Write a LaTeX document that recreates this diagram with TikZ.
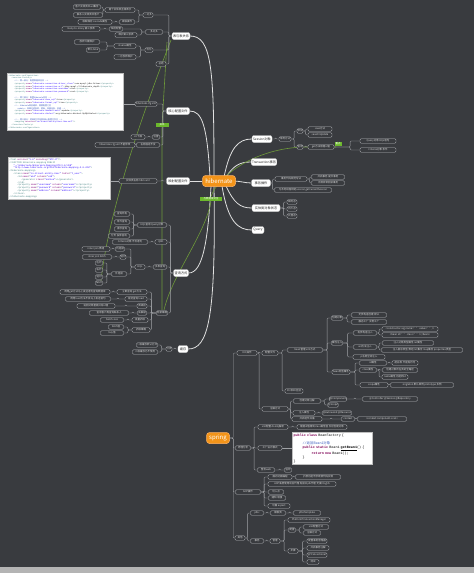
\documentclass[tikz,border=0pt]{standalone}
\usepackage{fontspec}
\setmainfont{Noto Sans CJK SC}
\setmonofont{Liberation Mono}
\usetikzlibrary{shadows}
\pgfdeclarelayer{back}
\pgfdeclarelayer{lines}
\pgfsetlayers{back,lines,main}
\definecolor{bgc}{HTML}{393B3F}
\definecolor{stripc}{HTML}{B4B4B4}
\definecolor{lnc}{HTML}{A0A2A6}
\definecolor{lfb}{HTML}{B4B6BA}
\definecolor{lft}{HTML}{D8D8D8}
\definecolor{relc}{HTML}{6E9A3A}
\definecolor{grn}{HTML}{6CB82C}
\definecolor{org}{HTML}{F39419}
\definecolor{kw}{HTML}{7F0055}
\definecolor{tg}{HTML}{3F7F7F}
\definecolor{at}{HTML}{7F007F}
\definecolor{st}{HTML}{2A00FF}
\definecolor{cm}{HTML}{3F5FBF}
\tikzset{
 leaf/.style={draw=lfb, line width=0.3pt, fill=bgc, text=lft, rounded corners=1.2pt, inner sep=0.5pt, minimum height=4.6pt, font=\fontsize{2.5}{2.8}\selectfont},
 mainn/.style={fill=white, draw=gray!40, line width=0.3pt, text=black!85, rounded corners=2pt, inner sep=0.8pt, minimum height=7pt, font=\fontsize{3.2}{3.6}\selectfont},
 conn/.style={draw=lnc, line width=0.35pt, rounded corners=1pt},
 curv/.style={draw=white!88!black, line width=0.8pt},
 rel/.style={draw=relc, line width=0.6pt},
 glab/.style={fill=grn, text=white, inner sep=0.6pt, minimum height=4.5pt, font=\fontsize{2.5}{2.8}\selectfont},
 rootn/.style={fill=org, draw=orange!60!white, line width=0.5pt, text=white, rounded corners=3pt, inner sep=1.2pt, minimum height=11pt, font=\fontsize{6}{7}\selectfont},
 codebox/.style={fill=white, draw=gray!50, line width=0.3pt, drop shadow={opacity=0.35, shadow xshift=0.6pt, shadow yshift=-0.6pt}},
}
\newcommand\lfnode[5]{\node[leaf,minimum width=#4pt] (#1) at (#2,#3) {#5};}
\newcommand\mnnode[5]{\node[mainn,minimum width=#4pt] (#1) at (#2,#3) {#5};}
\newcommand\lklink[3]{\draw[conn] (#1.west) -- ++(-#3,0) |- (#2.east);}
\newcommand\rklink[3]{\draw[conn] (#1.east) -- ++(#3,0) |- (#2.west);}
\begin{document}
\begin{tikzpicture}[x=1pt,y=-1pt]
\begin{pgfonlayer}{back}
\fill[bgc] (0,0) rectangle (474,573);
\fill[stripc] (0,567) rectangle (474,573);
\end{pgfonlayer}
\useasboundingbox (0,0) rectangle (474,573);

% roots
\node[rootn, minimum width=33pt] (hib) at (219,181) {hibernate};
\node[rootn, minimum width=23pt] (spr) at (218,438) {spring};

% hibernate main branches
\mnnode{h1}{181}{36}{18}{表与表关系}
\mnnode{h2}{178}{111}{23}{核心配置文件}
\mnnode{h3}{178}{181}{23}{映射配置文件}
\mnnode{h4}{181}{273}{15}{查询方式}
\mnnode{h5}{183}{349}{10}{缓存}
\mnnode{r1}{262}{139}{20}{Session对象}
\mnnode{r2}{264}{162}{25}{Transaction事务}
\mnnode{r3}{261}{183}{19}{事务操作}
\mnnode{r4}{266}{208}{28}{实体类对象状态}
\mnnode{r5}{258}{230}{12}{Query}

% green labels
\node[glab, minimum width=13pt] (g1) at (162,125) {关系};
\node[glab, minimum width=22pt] (g2) at (211,199) {与数据库交互};
\node[glab, minimum width=7pt] (g3) at (338,144) {重点};

% h1 group
\lfnode{a1}{148}{15}{10}{一对多}
\lfnode{a11}{120}{10}{30}{两个实体类互相表示}
\lfnode{a111}{87}{7}{27}{客户实体类中set集合}
\lfnode{a112}{88}{15}{29}{联系人实体类中客户}
\lfnode{a12}{127}{22}{15}{级联操作}
\lfnode{a121}{95}{22}{34}{级联保存 cascade属性}
\lfnode{a2}{154}{32}{17}{多对多}
\lfnode{a21}{116}{29}{13}{映射配置}
\lfnode{a211}{81}{29}{38}{many-to-many 第三张表}
\lfnode{a22}{126}{35}{22}{维护第三张表}
\lfnode{a3}{149}{50}{8}{优化}
\lfnode{a31}{125}{46}{22}{inverse属性}
\lfnode{a311}{87}{42}{25}{放弃外键维护}
\lfnode{a312}{93}{50}{13}{默认false}
\lfnode{a32}{125}{57}{22}{一方放弃维护}
\lfnode{a4}{161}{64}{10}{总结}

% h2 group
\node[codebox, anchor=north west, text width=113pt, align=left, inner sep=1.5pt, font=\fontsize{2.0}{2.75}\ttfamily] (code1) at (7,73) {%
\textcolor{tg}{<hibernate-configuration>}\\
\hspace*{3pt}\textcolor{tg}{<session-factory>}\\
\hspace*{6pt}\textcolor{cm}{<!-- {\rmfamily 第一部分：配置数据库信息} -->}\\
\hspace*{6pt}\textcolor{tg}{<property} \textcolor{at}{name}=\textcolor{st}{"hibernate.connection.driver\_class"}\textcolor{tg}{>}com.mysql.jdbc.Driver\textcolor{tg}{</property>}\\
\hspace*{6pt}\textcolor{tg}{<property} \textcolor{at}{name}=\textcolor{st}{"hibernate.connection.url"}\textcolor{tg}{>}jdbc:mysql:///hibernate\_day01\textcolor{tg}{</property>}\\
\hspace*{6pt}\textcolor{tg}{<property} \textcolor{at}{name}=\textcolor{st}{"hibernate.connection.username"}\textcolor{tg}{>}root\textcolor{tg}{</property>}\\
\hspace*{6pt}\textcolor{tg}{<property} \textcolor{at}{name}=\textcolor{st}{"hibernate.connection.password"}\textcolor{tg}{>}root\textcolor{tg}{</property>}\\
\mbox{}\\
\hspace*{6pt}\textcolor{cm}{<!-- {\rmfamily 第二部分：配置hibernate信息} -->}\\
\hspace*{6pt}\textcolor{tg}{<property} \textcolor{at}{name}=\textcolor{st}{"hibernate.show\_sql"}\textcolor{tg}{>}true\textcolor{tg}{</property>}\\
\hspace*{6pt}\textcolor{tg}{<property} \textcolor{at}{name}=\textcolor{st}{"hibernate.format\_sql"}\textcolor{tg}{>}true\textcolor{tg}{</property>}\\
\hspace*{6pt}\textcolor{cm}{<!-- {\rmfamily hibernate帮创建表，需要配置之后}}\\
\hspace*{9pt}\textcolor{cm}{update: {\rmfamily 如果已经有表，更新，如果没有，创建} -->}\\
\hspace*{6pt}\textcolor{tg}{<property} \textcolor{at}{name}=\textcolor{st}{"hibernate.hbm2ddl.auto"}\textcolor{tg}{>}update\textcolor{tg}{</property>}\\
\hspace*{6pt}\textcolor{tg}{<property} \textcolor{at}{name}=\textcolor{st}{"hibernate.dialect"}\textcolor{tg}{>}org.hibernate.dialect.MySQLDialect\textcolor{tg}{</property>}\\
\mbox{}\\
\hspace*{6pt}\textcolor{cm}{<!-- {\rmfamily 第三部分：把映射文件放到核心配置文件中} -->}\\
\hspace*{6pt}\textcolor{tg}{<mapping} \textcolor{at}{resource}=\textcolor{st}{"cn/itcast/entity/User.hbm.xml"}\textcolor{tg}{/>}\\
\hspace*{3pt}\textcolor{tg}{</session-factory>}\\
\textcolor{tg}{</hibernate-configuration>}};
\lfnode{b1}{146}{104}{22}{hibernate.cfg.xml}
\lfnode{b4}{156}{137}{7}{位置}
\lfnode{b2}{138}{137}{14}{src下面}
\lfnode{b3}{148}{145}{23}{名称固定不变}
\lfnode{b31}{115}{145}{40}{hibernate.cfg.xml 不能修改}

% h3 group
\node[codebox, anchor=north west, text width=99pt, align=left, inner sep=1.5pt, font=\fontsize{2.3}{2.85}\ttfamily] (code2) at (8,157) {%
\textcolor{tg}{<?xml} \textcolor{at}{version}=\textcolor{st}{"1.0"} \textcolor{at}{encoding}=\textcolor{st}{"UTF-8"}\textcolor{tg}{?>}\\
\textcolor{tg}{<!DOCTYPE hibernate-mapping PUBLIC}\\
\hspace*{4pt}\textcolor{st}{"-//Hibernate/Hibernate Mapping DTD 3.0//EN"}\\
\hspace*{4pt}\textcolor{st}{"http://www.hibernate.org/dtd/hibernate-mapping-3.0.dtd"}\textcolor{tg}{>}\\
\textcolor{tg}{<hibernate-mapping>}\\
\hspace*{4pt}\textcolor{tg}{<class} \textcolor{at}{name}=\textcolor{st}{"cn.itcast.entity.User"} \textcolor{at}{table}=\textcolor{st}{"t\_user"}\textcolor{tg}{>}\\
\hspace*{8pt}\textcolor{tg}{<id} \textcolor{at}{name}=\textcolor{st}{"uid"} \textcolor{at}{column}=\textcolor{st}{"uid"}\textcolor{tg}{>}\\
\hspace*{12pt}\textcolor{tg}{<generator} \textcolor{at}{class}=\textcolor{st}{"native"}\textcolor{tg}{></generator>}\\
\hspace*{8pt}\textcolor{tg}{</id>}\\
\hspace*{8pt}\textcolor{tg}{<property} \textcolor{at}{name}=\textcolor{st}{"username"} \textcolor{at}{column}=\textcolor{st}{"username"}\textcolor{tg}{></property>}\\
\hspace*{8pt}\textcolor{tg}{<property} \textcolor{at}{name}=\textcolor{st}{"password"} \textcolor{at}{column}=\textcolor{st}{"password"}\textcolor{tg}{></property>}\\
\hspace*{8pt}\textcolor{tg}{<property} \textcolor{at}{name}=\textcolor{st}{"address"} \textcolor{at}{column}=\textcolor{st}{"address"}\textcolor{tg}{></property>}\\
\hspace*{4pt}\textcolor{tg}{</class>}\\
\textcolor{tg}{</hibernate-mapping>}};
\lfnode{c1}{138}{181}{38}{实体类名称.hbm.xml}

% h4 group
\lfnode{d1}{152}{225}{29}{HQL查询 Query对象}
\lfnode{d11}{122}{214}{15}{查询所有}
\lfnode{d12}{122}{222}{15}{条件查询}
\lfnode{d13}{122}{229}{15}{排序查询}
\lfnode{d14}{119}{236}{21}{分页 投影查询}
\lfnode{d2}{161}{242}{12}{QBC}
\lfnode{d21}{130}{242}{35}{Criteria对象 不写语句}
\lfnode{d3}{160}{267}{13}{多表查询}
\lfnode{d31}{140}{267}{10}{HQL}
\lfnode{d311}{120}{249}{9}{内连接}
\lfnode{d3111}{96}{249}{28}{inner join 数组}
\lfnode{d312}{123}{257}{6}{迫切}
\lfnode{d3121}{97}{257}{29}{inner join fetch}
\lfnode{d313}{119}{274}{15}{外连接}
\lfnode{d3131}{99}{263}{7}{左外}
\lfnode{d3132}{99}{270}{7}{右外}
\lfnode{d3133}{99}{277}{7}{迫切}
\lfnode{d3134}{99}{283}{7}{fetch}
\lfnode{e0}{162}{313}{10}{检索策略}
\lfnode{e1}{132}{292}{30}{立即查询 get方法}
\lfnode{e11}{85}{292}{50}{调用get方法马上发送语句查询数据库}
\lfnode{e2}{136}{299}{22}{延迟查询 load}
\lfnode{e21}{88}{299}{45}{调用load方法不会马上发送语句}
\lfnode{e3}{142}{306}{10}{类级别}
\lfnode{e31}{96}{306}{38}{返回对象里面只有id值}
\lfnode{e4}{142}{313}{9}{关联级}
\lfnode{e41}{109}{313}{39}{查询客户再查询联系人}
\lfnode{e5}{140}{320}{16}{批量抓取}
\lfnode{e51}{112}{320}{23}{batch-size}
\lfnode{e6}{141}{330}{18}{抓取策略}
\lfnode{e61}{116}{327}{15}{fetch值}
\lfnode{e62}{112}{333}{23}{lazy值}

% h5 group
\lfnode{f1}{169}{349}{5}{分类}
\lfnode{f11}{147}{345}{20}{一级缓存默认打开}
\lfnode{f12}{145}{352}{25}{二级缓存已不使用}

% right groups
\lfnode{r11}{285}{139}{12}{常用方法}
\lfnode{r111}{300}{131}{6}{添加}
\lfnode{r1111}{320}{129}{24}{save方法}
\lfnode{r1112}{320}{135}{24}{saveOrUpdate}
\lfnode{r112}{300}{147}{6}{查询}
\lfnode{r1121}{321}{147}{26}{get方法根据id查}
\lfnode{r11211}{378}{141}{36}{Query对象 HQL语句}
\lfnode{r11212}{378}{150}{36}{Criteria对象 条件}
\lfnode{r31}{291}{179}{32}{事务代码规范写法}
\lfnode{r311}{328}{177}{33}{开启事务 提交事务}
\lfnode{r312}{328}{183}{33}{出现异常回滚事务}
\lfnode{r32}{303}{190}{57}{与本地线程绑定session getCurrentSession}
\lfnode{r41}{292}{202}{10}{瞬时态}
\lfnode{r42}{292}{209}{10}{持久态}
\lfnode{r43}{292}{216}{10}{托管态}

% spring
\lfnode{s1}{247}{353}{20}{IOC操作}
\lfnode{s11}{270}{353}{16}{配置文件}
\lfnode{s111}{305}{350}{35}{bean管理 xml方式}
\lfnode{t1}{337}{318}{10}{创建对象}
\lfnode{t11}{369}{315}{35}{无参构造创建 默认}
\lfnode{t12}{369}{322}{35}{静态工厂 实例工厂}
\lfnode{t2}{337}{343}{11}{属性注入}
\lfnode{u1}{365}{333}{23}{有参构造注入}
\lfnode{u11}{410}{329}{56}{<constructor-arg name="" value=""/>}
\lfnode{u12}{410}{335}{56}{<bean id="" class=""></bean>}
\lfnode{u2}{365}{347}{23}{set方法注入}
\lfnode{u21}{408}{343}{51}{注入对象类型属性 ref属性}
\lfnode{u22}{422}{350}{81}{注入复杂类型 数组 list集合 map集合 properties类型}
\lfnode{u3}{369}{357}{32}{p名称空间注入}
\lfnode{t3}{341}{372}{18}{bean标签属性}
\lfnode{v1}{373}{363}{27}{id属性}
\lfnode{v11}{405}{363}{26}{起名称 不能有符号}
\lfnode{v2}{368}{370}{17}{class属性}
\lfnode{v21}{400}{370}{35}{创建对象所在类的全路径}
\lfnode{v22}{395}{377}{26}{name属性 功能同id}
\lfnode{v3}{374}{385}{28}{scope属性}
\lfnode{v31}{422}{385}{63}{singleton 默认单例 prototype 多例}
\lfnode{s112}{294}{391}{18}{IOC和DI区别}
\lfnode{s12}{275}{409}{26}{注解方式}
\lfnode{w1}{307}{401}{27}{创建对象注解}
\lfnode{w11}{338}{399}{17}{@Component}
\lfnode{w111}{390}{399}{55}{@Controller @Service @Repository}
\lfnode{w12}{333}{405}{9}{@Scope}
\lfnode{w2}{304}{413}{22}{注入属性}
\lfnode{w21}{337}{413}{29}{@Autowired @Resource}
\lfnode{w3}{307}{419}{30}{开启组件扫描}
\lfnode{w31}{348}{419}{13}{context}
\lfnode{w311}{382}{419}{49}{<context:component-scan>}

\lfnode{s2}{243}{448}{15}{原理分析}
\lfnode{s21}{273}{427}{30}{xml配置 dom4j解析}
\lfnode{s211}{322}{427}{50}{根据id值得到class属性值 反射创建对象}
\lfnode{s22}{270}{448}{24}{工厂设计模式}
\lfnode{s23}{266}{470}{17}{整合web}
\lfnode{s231}{288}{470}{7}{监听}
\node[codebox, anchor=north west, text width=77pt, align=left, inner sep=1.5pt, font=\fontsize{3.4}{4.0}\ttfamily] (code3) at (292,432) {%
\textcolor{kw}{\bfseries public class} BeanFactory \{\\
\mbox{}\\
\hspace*{9pt}\textcolor{cm}{//{\rmfamily 返回Bean1对象}}\\
\hspace*{9pt}\textcolor{kw}{\bfseries public static} Bean1 \textbf{\underline{getBean1}}() \{\\
\hspace*{18pt}\textcolor{kw}{\bfseries return new} Bean1();\\
\hspace*{9pt}\}\\
\}};

\lfnode{s3}{248}{492}{25}{AOP操作}
\lfnode{s31}{280}{477}{24}{面向切面编程}
\lfnode{s311}{318}{477}{45}{扩展功能不修改源代码实现}
\lfnode{s32}{302}{484}{68}{AOP底层使用动态代理 有接口jdk代理 无接口cglib}
\lfnode{s33}{276}{492}{15}{切入点}
\lfnode{s34}{277}{498}{17}{通知 增强}
\lfnode{s35}{279}{506}{22}{切面 aspect}
\lfnode{s4}{240}{538}{10}{其他}
\lfnode{s41}{257}{513}{13}{jdbc}
\lfnode{s411}{278}{513}{15}{模板类}
\lfnode{s4111}{307}{513}{27}{jdbcTemplate}
\lfnode{s42}{257}{541}{13}{事务}
\lfnode{s421}{275}{541}{10}{管理}
\lfnode{s4211}{309}{520}{42}{PlatformTransactionManager}
\lfnode{s4212}{292}{530}{7}{配置}
\lfnode{s42121}{316}{527}{25}{xml配置方式}
\lfnode{s42122}{312}{533}{17}{注解方式}
\lfnode{s4213}{293}{551}{10}{步骤}
\lfnode{s42131}{317}{541}{20}{配置事务管理器}
\lfnode{s42132}{318}{548}{22}{开启事务注解}
\lfnode{s42133}{317}{555}{20}{@Transactional}
\lfnode{s42134}{313}{562}{12}{测试}

\begin{pgfonlayer}{lines}
% hibernate curves
\draw[curv] (214,177) .. controls (214,70) and (212,36) .. (h1.east);
\draw[curv] (210,177) .. controls (207,125) and (202,111) .. (h2.east);
\draw[curv] (hib.west) -- (h3.east);
\draw[curv] (211,186) .. controls (208,240) and (203,273) .. (h4.east);
\draw[curv] (214,186) .. controls (216,320) and (208,349) .. (h5.east);
\draw[curv] (224,177) .. controls (230,148) and (238,139) .. (r1.west);
\draw[curv] (226,177) .. controls (234,165) and (240,162) .. (r2.west);
\draw[curv] (233,181) .. controls (240,181) and (245,183) .. (r3.west);
\draw[curv] (226,186) .. controls (234,203) and (240,208) .. (r4.west);
\draw[curv] (222,186) .. controls (228,222) and (238,230) .. (r5.west);
% relations
\draw[rel] (167,42) -- (g1) -- (162,310);
\draw[rel] (171,40) .. controls (140,120) and (108,215) .. (101,281);
\draw[rel] (336,147) -- (305,147) .. controls (255,148) and (218,176) .. (g2.north);
\draw[rel] (g2.south) .. controls (205,235) and (172,275) .. (164,310);
% left links
\lklink{h1}{a1}{3} \lklink{h1}{a2}{3} \lklink{h1}{a3}{3} \lklink{h1}{a4}{3}
\lklink{a1}{a11}{4} \lklink{a1}{a12}{4}
\lklink{a11}{a111}{2} \lklink{a11}{a112}{2}
\lklink{a12}{a121}{3.5}
\lklink{a2}{a21}{4} \lklink{a2}{a22}{4}
\lklink{a21}{a211}{4.5}
\lklink{a3}{a31}{4.5} \lklink{a3}{a32}{4.5}
\lklink{a31}{a311}{7} \lklink{a31}{a312}{7}
\lklink{h2}{b1}{3.5} \lklink{h2}{b4}{3.5} \lklink{h2}{b3}{3.5}
\lklink{b4}{b2}{3.5}
\lklink{b3}{b31}{0.8}
\draw[conn] (b1.west) -- (code1.east |- b1.west);
\lklink{h3}{c1}{4}
\draw[conn] (c1.west) -- (code2.east |- c1.west);
\lklink{h4}{d1}{3} \lklink{h4}{d2}{3} \lklink{h4}{d3}{3} \lklink{h4}{e0}{3}
\lklink{d1}{d11}{4} \lklink{d1}{d12}{4} \lklink{d1}{d13}{4} \lklink{d1}{d14}{4}
\lklink{d2}{d21}{3}
\lklink{d3}{d31}{4}
\lklink{d31}{d311}{4} \lklink{d31}{d312}{4} \lklink{d31}{d313}{4}
\lklink{d311}{d3111}{2.5}
\lklink{d312}{d3121}{4}
\lklink{d313}{d3131}{4.5} \lklink{d313}{d3132}{4.5} \lklink{d313}{d3133}{4.5} \lklink{d313}{d3134}{4.5}
\lklink{e0}{e1}{5} \lklink{e0}{e2}{5} \lklink{e0}{e3}{5} \lklink{e0}{e4}{5} \lklink{e0}{e5}{5} \lklink{e0}{e6}{5}
\lklink{e1}{e11}{3.5} \lklink{e2}{e21}{7} \lklink{e3}{e31}{11} \lklink{e4}{e41}{4.5} \lklink{e5}{e51}{4}
\lklink{e6}{e61}{4} \lklink{e6}{e62}{4}
\lklink{h5}{f1}{3}
\lklink{f1}{f11}{4.5} \lklink{f1}{f12}{4.5}
% right links
\rklink{r1}{r11}{3.5}
\rklink{r11}{r111}{3} \rklink{r11}{r112}{3}
\rklink{r111}{r1111}{2.5} \rklink{r111}{r1112}{2.5}
\rklink{r112}{r1121}{2.5}
\rklink{r1121}{r11211}{16} \rklink{r1121}{r11212}{16}
\rklink{r3}{r31}{2} \rklink{r3}{r32}{2}
\rklink{r31}{r311}{2.5} \rklink{r31}{r312}{2.5}
\rklink{r4}{r41}{3.5} \rklink{r4}{r42}{3.5} \rklink{r4}{r43}{3.5}
% spring links
\rklink{spr}{s1}{3.5} \rklink{spr}{s2}{3.5} \rklink{spr}{s3}{3.5} \rklink{spr}{s4}{3.5}
\rklink{s1}{s11}{2} \rklink{s1}{s12}{2}
\rklink{s11}{s111}{4} \rklink{s11}{s112}{4}
\rklink{s111}{t1}{4.5} \rklink{s111}{t2}{4.5} \rklink{s111}{t3}{4.5}
\rklink{t1}{t11}{4.5} \rklink{t1}{t12}{4.5}
\rklink{t2}{u1}{5} \rklink{t2}{u2}{5} \rklink{t2}{u3}{5}
\rklink{u1}{u11}{2.5} \rklink{u1}{u12}{2.5}
\rklink{u2}{u21}{2.5} \rklink{u2}{u22}{2.5}
\rklink{t3}{v1}{5} \rklink{t3}{v2}{5} \rklink{t3}{v3}{5}
\rklink{v1}{v11}{2.5}
\rklink{v2}{v21}{2.5} \rklink{v2}{v22}{2.5}
\rklink{v3}{v31}{1}
\rklink{s12}{w1}{2.5} \rklink{s12}{w2}{2.5} \rklink{s12}{w3}{2.5}
\rklink{w1}{w11}{4} \rklink{w1}{w12}{4}
\rklink{w11}{w111}{8}
\rklink{w2}{w21}{3.5}
\rklink{w3}{w31}{9}
\rklink{w31}{w311}{1.5}
\rklink{s2}{s21}{3.5} \rklink{s2}{s22}{3.5} \rklink{s2}{s23}{3.5}
\rklink{s21}{s211}{4.5}
\draw[conn] (s22.east) -- (code3.west |- s22.east);
\rklink{s23}{s231}{5}
\rklink{s3}{s31}{3.5} \rklink{s3}{s32}{3.5} \rklink{s3}{s33}{3.5} \rklink{s3}{s34}{3.5} \rklink{s3}{s35}{3.5}
\rklink{s31}{s311}{1.5}
\rklink{s4}{s41}{2.5} \rklink{s4}{s42}{2.5}
\rklink{s41}{s411}{3.5} \rklink{s411}{s4111}{4}
\rklink{s42}{s421}{3}
\rklink{s421}{s4211}{4} \rklink{s421}{s4212}{4} \rklink{s421}{s4213}{4}
\rklink{s4212}{s42121}{4} \rklink{s4212}{s42122}{4}
\rklink{s4213}{s42131}{4.5} \rklink{s4213}{s42132}{4.5} \rklink{s4213}{s42133}{4.5} \rklink{s4213}{s42134}{4.5}
\end{pgfonlayer}
\end{tikzpicture}
\end{document}
